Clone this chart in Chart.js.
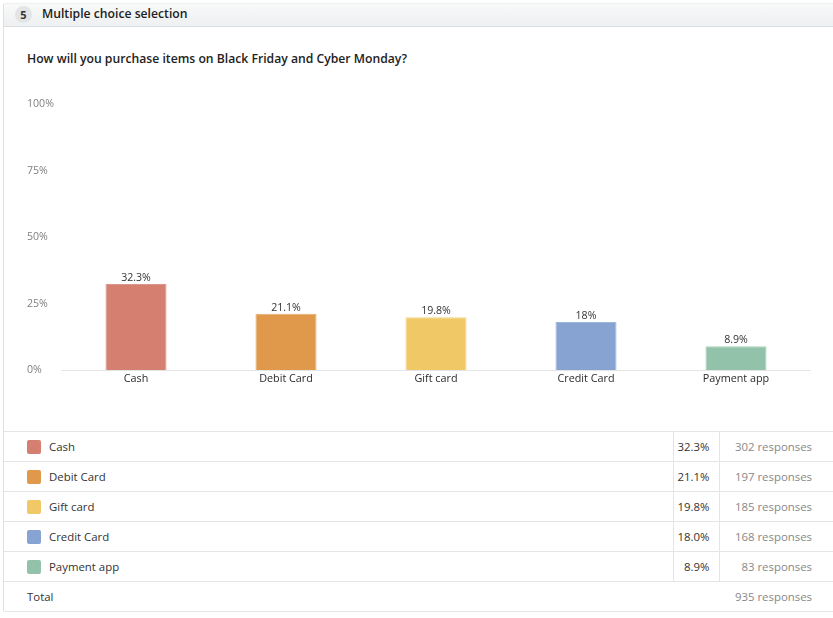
<!DOCTYPE html>
<html>
<head>
<meta charset="utf-8">
<script src="https://cdn.jsdelivr.net/npm/chart.js@4.4.0/dist/chart.umd.min.js"></script>
<style>
  html,body{margin:0;padding:0;background:#fff;font-family:"Open Sans",sans-serif;color:#2b2b2b;}
  body{width:833px;height:618px;overflow:hidden;position:relative;}
  .card{position:absolute;left:3px;top:4px;width:840px;height:607px;border-left:1px solid #dfe1e2;}
  .head{position:absolute;left:0;top:0;right:0;height:22px;background:linear-gradient(#f8f9f9,#eef0f1);border-bottom:1px solid #dadddf;box-shadow:0 -1px 1px rgba(0,0,0,.06);}
  .badge{position:absolute;left:11px;top:2px;width:17px;height:17px;border-radius:50%;background:#e2e4e5;font-size:11px;font-weight:700;line-height:17px;text-align:center;color:#333;}
  .head .t{position:absolute;left:38px;top:0;line-height:19px;font-size:12.2px;font-weight:600;color:#222;}
  .question{position:absolute;left:23px;top:46px;font-size:12.2px;font-weight:600;color:#222;line-height:18px;}
  .chartbox{position:absolute;left:23px;top:86px;width:784px;height:300px;}
  table{position:absolute;left:0;top:427px;width:830px;border-collapse:collapse;table-layout:fixed;font-size:11.4px;}
  td{height:29px;border-top:1px solid #e3e5e6;border-bottom:1px solid #e3e5e6;padding:0;}
  td.lab{padding-left:23px;color:#333;}
  .sw{display:inline-block;width:14px;height:14px;border-radius:2px;vertical-align:-3px;margin-right:8px;}
  td.pct{text-align:right;padding-right:9px;border-left:1px solid #e3e5e6;border-right:1px solid #e3e5e6;color:#333;}
  td.resp{text-align:right;padding-right:22px;color:#888;}
</style>
</head>
<body>
<div class="card">
  <div class="head"><div class="badge">5</div><div class="t">Multiple choice selection</div></div>
  <div class="question">How will you purchase items on Black Friday and Cyber Monday?</div>
  <div class="chartbox"><canvas id="c"></canvas></div>
  <table id="tbl">
    <colgroup><col style="width:669px"><col style="width:46px"><col style="width:115px"></colgroup>
    <tbody></tbody>
  </table>
</div>
<script>
const categories = ['Cash', 'Debit Card', 'Gift card', 'Credit Card', 'Payment app'];
const percents = [32.3, 21.1, 19.8, 18.0, 8.9];
const responses = [302, 197, 185, 168, 83];
const totalResponses = 935;
const colors = ['#d47f70', '#e0994a', '#f0c966', '#87a3d2', '#92c3aa'];
const edgeColors = ['#dc958a', '#e6ab6a', '#f3d489', '#9fb6dc', '#a9d0bc'];
const yTicks = [0, 25, 50, 75, 100];

// value labels on top of bars
const barLabels = {
  id: 'barLabels',
  afterDatasetsDraw(chart){
    const ctx = chart.ctx;
    const meta = chart.getDatasetMeta(0);
    ctx.save();
    ctx.font = '10.6px "Open Sans"';
    ctx.fillStyle = '#333';
    ctx.textAlign = 'center';
    ctx.textBaseline = 'bottom';
    meta.data.forEach((bar, i) => {
      ctx.fillText(`${+percents[i]}%`, bar.x, bar.y - 1);
    });
    ctx.restore();
  }
};

new Chart(document.getElementById('c'), {
  type: 'bar',
  data: {
    labels: categories,
    datasets: [{
      data: percents,
      backgroundColor: colors,
      borderColor: edgeColors,
      borderWidth: 1,
      categoryPercentage: 1,
      barPercentage: 0.407
    }]
  },
  options: {
    responsive: true,
    maintainAspectRatio: false,
    animation: false,
    layout: {padding: {top: 14, right: 0, bottom: 0, left: 0}},
    plugins: {legend: {display: false}, tooltip: {enabled: false}},
    scales: {
      x: {
        grid: {display: false, drawTicks: false},
        border: {display: true, color: '#e2e4e5', width: 1},
        ticks: {padding: 2, color: '#2b2b2b', font: {family: '"Open Sans"', size: 10.8}},
        afterFit: s => { s.height = 20; }
      },
      y: {
        min: 0, max: 100,
        afterBuildTicks: s => { s.ticks = yTicks.map(v => ({value: v})); },
        grid: {display: false, drawTicks: false},
        border: {display: false},
        ticks: {crossAlign: 'far', color: '#808080', font: {family: '"Open Sans"', size: 10.6}, callback: v => v + '%'},
        afterFit: s => { s.width = 34; }
      }
    }
  },
  plugins: [barLabels]
});

const tbody = document.querySelector('#tbl tbody');
tbody.innerHTML = categories.map((c, i) => `
  <tr>
    <td class="lab"><span class="sw" style="background:${colors[i]}"></span>${c}</td>
    <td class="pct">${percents[i].toFixed(1)}%</td>
    <td class="resp">${responses[i]} responses</td>
  </tr>`).join('') + `
  <tr>
    <td class="lab">Total</td>
    <td colspan="2" class="resp">${totalResponses} responses</td>
  </tr>`;
</script>
</body>
</html>
